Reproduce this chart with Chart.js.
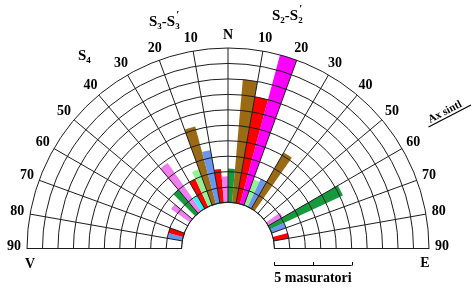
<!DOCTYPE html>
<html><head><meta charset="utf-8">
<script src="https://cdn.jsdelivr.net/npm/chart.js@4.4.0/dist/chart.umd.min.js"></script>
<style>html,body{margin:0;padding:0;background:#fff;overflow:hidden;}canvas{display:block;}</style>
</head><body>
<canvas id="c" width="474" height="500"></canvas>
<script>
// 5-degree azimuth bins, from V (west, 90) through N (0) to E (east, 90)
const binLabels = [
  'V 90-85','V 85-80','V 80-75','V 75-70','V 70-65','V 65-60','V 60-55','V 55-50','V 50-45',
  'V 45-40','V 40-35','V 35-30','V 30-25','V 25-20','V 20-15','V 15-10','V 10-5','V 5-0',
  'E 0-5','E 5-10','E 10-15','E 15-20','E 20-25','E 25-30','E 30-35','E 35-40','E 40-45',
  'E 45-50','E 50-55','E 55-60','E 60-65','E 65-70','E 70-75','E 75-80','E 80-85','E 85-90'
];
// number of measurements in each bin
const counts = [
  0, 0, 1, 1, 0, 0, 0, 1.5, 0,
  2, 3.8, 1, 2, 2.5, 5.2, 3.5, 2.2, 1.7,
  2.2, 8, 7, 10, 1.8, 2, 4.2, 0, 0,
  0, 0, 1.1, 5.2, 1, 0, 1, 0, 0
];
const angleTickLabels = ['90','80','70','60','50','40','30','20','10','N','10','20','30','40','50','60','70','80','90'];
const radialMax = 10;
const scaleBarValue = 5;
const scaleBarLabel = '5 masuratori';

// styles
const C = {br:'#9b6a14', rd:'#ff0000', mg:'#ff00ff', vi:'#f07ef0', gn:'#169a3e', lg:'#93f093', bl:'#6a96ec', cy:'#33f2f2', no:'rgba(0,0,0,0)'};
const barColors = [
  C.no, C.no, C.bl, C.rd, C.no, C.no, C.no, C.vi, C.no,
  C.gn, C.vi, C.cy, C.rd, C.lg, C.br, C.bl, C.rd, C.vi,
  C.gn, C.br, C.rd, C.mg, C.lg, C.bl, C.br, C.no, C.no,
  C.no, C.no, C.vi, C.gn, C.bl, C.no, C.rd, C.no, C.no
];
const gridColor = '#1c1c1c';
const serif = '"Liberation Serif", "DejaVu Serif", serif';

// full circle for the library: lower half empty
const allLabels = binLabels.concat(binLabels.map(() => ''));
const allValues = counts.concat(counts.map(() => 0));
const allColors = barColors.concat(barColors.map(() => C.no));
const half = binLabels.length;

function drawRich(ctx, x, y, parts) {
  ctx.textAlign = 'left';
  ctx.textBaseline = 'alphabetic';
  for (const p of parts) {
    if (p.main) {
      ctx.font = 'bold 15px ' + serif;
      ctx.fillText(p.main, x, y);
      x += ctx.measureText(p.main).width;
    } else {
      let w = 0;
      if (p.sup) {
        ctx.font = 'bold 11px ' + serif;
        ctx.fillText(p.sup, x + 1, y - 8);
        w = Math.max(w, ctx.measureText(p.sup).width + 1);
      }
      if (p.sub) {
        ctx.font = 'bold 9px ' + serif;
        ctx.fillText(p.sub, x, y + 3);
        w = Math.max(w, ctx.measureText(p.sub).width);
      }
      x += w;
    }
  }
}

const overlay = {
  id: 'overlay',
  afterDraw(chart) {
    const s = chart.scales.r;
    const ctx = chart.ctx;
    const xc = s.xCenter, yc = s.yCenter;
    const r0 = s.getDistanceFromCenterForValue(0);
    const rMax = s.getDistanceFromCenterForValue(s.max);
    ctx.save();
    ctx.fillStyle = '#fff';
    ctx.fillRect(0, yc, chart.width, chart.height - yc);
    ctx.beginPath(); ctx.arc(xc, yc, r0 - 0.5, 0, 2 * Math.PI); ctx.fill();
    ctx.strokeStyle = gridColor; ctx.lineWidth = 1;
    ctx.beginPath(); ctx.arc(xc, yc - 0.5, r0, Math.PI, 2 * Math.PI); ctx.stroke();
    ctx.beginPath();
    ctx.moveTo(xc - rMax, yc - 0.5); ctx.lineTo(xc - r0, yc - 0.5);
    ctx.moveTo(xc + r0, yc - 0.5); ctx.lineTo(xc + rMax, yc - 0.5);
    ctx.stroke();

    // angle labels
    ctx.fillStyle = '#000';
    ctx.font = 'bold 14px ' + serif;
    ctx.textAlign = 'center'; ctx.textBaseline = 'middle';
    angleTickLabels.forEach((t, k) => {
      const p = s.getPointPosition(2 * k, rMax + 13);
      let dy = 0;
      if (k === 0 || k === angleTickLabels.length - 1) dy = -3;
      ctx.fillText(t, p.x, p.y + dy);
    });
    ctx.textBaseline = 'alphabetic';
    ctx.fillText('V', xc - rMax + 3, yc + 19);
    ctx.fillText('E', xc + rMax - 4, yc + 18);

    // scale bar
    const xa = xc + r0, xb = xc + s.getDistanceFromCenterForValue(scaleBarValue);
    const yb = yc + 16.5;
    ctx.beginPath();
    ctx.moveTo(xa, yb); ctx.lineTo(xb, yb);
    [xa, (xa + xb) / 2, xb].forEach(x => { ctx.moveTo(Math.round(x) + 0.5, yb); ctx.lineTo(Math.round(x) + 0.5, yb - 3.5); });
    ctx.strokeStyle = '#000'; ctx.stroke();
    ctx.font = 'bold 14px ' + serif;
    ctx.fillText(scaleBarLabel, (xa + xb) / 2, yc + 33);

    // structure labels
    drawRich(ctx, 78, 60, [{main:'S'}, {sub:'4'}]);
    drawRich(ctx, 149, 26, [{main:'S'}, {sub:'3'}, {main:'-'}, {main:'S'}, {sup:'\u2032', sub:'3'}]);
    drawRich(ctx, 272, 20, [{main:'S'}, {sub:'2'}, {main:'-'}, {main:'S'}, {sup:'\u2032', sub:'2'}]);

    // axis label
    ctx.save();
    ctx.translate(445, 112);
    ctx.rotate(-28 * Math.PI / 180);
    ctx.font = 'bold 11px ' + serif;
    ctx.textAlign = 'center'; ctx.textBaseline = 'middle';
    ctx.fillText('Ax sintl', 0, 0);
    ctx.restore();
    ctx.beginPath(); ctx.moveTo(428.5, 127); ctx.lineTo(471, 105);
    ctx.lineWidth = 1.2; ctx.stroke();
    ctx.restore();
  }
};

new Chart(document.getElementById('c'), {
  type: 'polarArea',
  data: {
    labels: allLabels,
    datasets: [{ data: allValues, backgroundColor: allColors, borderWidth: 0 }]
  },
  options: {
    responsive: false,
    animation: false,
    layout: { padding: { left: 27, right: 45, top: 48, bottom: 50 } },
    plugins: { legend: { display: false }, tooltip: { enabled: false } },
    scales: {
      r: {
        min: -3, max: radialMax, startAngle: -90,
        ticks: { display: false, stepSize: 1 },
        pointLabels: { display: false },
        grid: { circular: true, color: gridColor, lineWidth: 1, z: 1 },
        angleLines: {
          display: true, lineWidth: 1,
          color: (ctx) => (ctx.index % 2 === 0 && ctx.index <= half) ? gridColor : 'rgba(0,0,0,0)'
        }
      }
    }
  },
  plugins: [overlay]
});
</script>
</body></html>
